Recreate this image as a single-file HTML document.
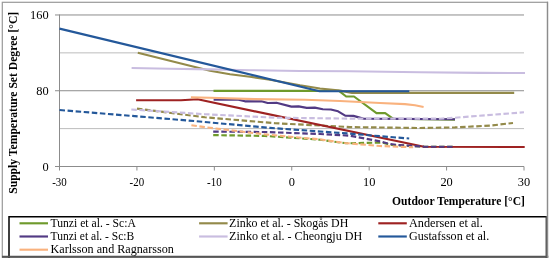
<!DOCTYPE html>
<html><head><meta charset="utf-8"><title>Supply temperature chart</title>
<style>html,body{margin:0;padding:0;background:#fff;overflow:hidden}svg{display:block}</style>
</head><body>
<svg width="550" height="259" viewBox="0 0 550 259">
<rect x="0" y="0" width="550" height="259" fill="#ffffff"/>
<rect x="2.3" y="2.3" width="545.2" height="255" fill="none" stroke="#9a9a9a" stroke-width="1.2"/>
<line x1="59.5" y1="128.62" x2="524.0" y2="128.62" stroke="#bcbcbc" stroke-width="1"/>
<line x1="59.5" y1="52.86" x2="524.0" y2="52.86" stroke="#bcbcbc" stroke-width="1"/>
<line x1="59.5" y1="90.74" x2="524.0" y2="90.74" stroke="#8c8c8c" stroke-width="1"/>
<line x1="59.5" y1="14.98" x2="524.0" y2="14.98" stroke="#8c8c8c" stroke-width="1"/>
<line x1="59.5" y1="14.48" x2="59.5" y2="166.50" stroke="#8c8c8c" stroke-width="1"/>
<line x1="55" y1="166.50" x2="524.0" y2="166.50" stroke="#8c8c8c" stroke-width="1"/>
<line x1="55" y1="166.50" x2="59.5" y2="166.50" stroke="#8c8c8c" stroke-width="1"/>
<line x1="55" y1="90.74" x2="59.5" y2="90.74" stroke="#8c8c8c" stroke-width="1"/>
<line x1="55" y1="14.98" x2="59.5" y2="14.98" stroke="#8c8c8c" stroke-width="1"/>
<line x1="59.49" y1="166.50" x2="59.49" y2="170.5" stroke="#8c8c8c" stroke-width="1"/>
<line x1="136.91" y1="166.50" x2="136.91" y2="170.5" stroke="#8c8c8c" stroke-width="1"/>
<line x1="214.33" y1="166.50" x2="214.33" y2="170.5" stroke="#8c8c8c" stroke-width="1"/>
<line x1="291.75" y1="166.50" x2="291.75" y2="170.5" stroke="#8c8c8c" stroke-width="1"/>
<line x1="369.17" y1="166.50" x2="369.17" y2="170.5" stroke="#8c8c8c" stroke-width="1"/>
<line x1="446.59" y1="166.50" x2="446.59" y2="170.5" stroke="#8c8c8c" stroke-width="1"/>
<line x1="524.01" y1="166.50" x2="524.01" y2="170.5" stroke="#8c8c8c" stroke-width="1"/>
<g fill="none" stroke-linejoin="round" stroke-linecap="butt">
<polyline points="213.5,90.8 339.0,90.8 346.2,96.5 354.0,96.5 376.5,113.1 385.2,113.1 393.3,118.8 455.0,119.6" stroke="#6f9a2c" stroke-width="2.15"/>
<polyline points="213.2,135.1 265.0,135.9 320.0,139.7 346.0,143.3 382.0,142.6 392.0,145.0 424.0,146.7 455.0,146.9" stroke="#6f9a2c" stroke-width="2.15" stroke-dasharray="5.5 2.6"/>
<polyline points="137.8,52.7 210.0,70.8 230.0,74.2 250.0,76.8 270.0,79.8 300.0,85.3 320.0,88.5 340.0,90.6 352.0,92.9 514.2,92.9" stroke="#938a4a" stroke-width="2.15"/>
<polyline points="137.0,108.6 205.0,117.3 275.0,123.2 350.0,127.1 420.0,128.0 455.0,127.4 490.0,125.6 513.0,123.0" stroke="#938a4a" stroke-width="2.15" stroke-dasharray="5.5 2.6"/>
<polyline points="136.1,100.2 181.0,100.2 197.6,99.3 424.0,146.7 524.7,147.0" stroke="#9e2222" stroke-width="2.15"/>
<polyline points="213.6,99.6 238.4,99.6 244.9,101.3 261.4,101.3 267.7,103.0 276.4,102.7 291.4,106.6 298.6,106.4 306.8,107.9 314.8,107.6 322.8,109.3 330.8,109.5 338.1,111.3 345.6,115.8 353.4,115.9 363.2,118.6 455.0,119.3" stroke="#523a84" stroke-width="2.15"/>
<polyline points="213.2,131.6 265.0,132.0 320.0,134.0 350.0,135.7 370.8,139.6 381.0,141.5 388.0,143.6 396.0,144.8 424.0,146.7 454.6,146.8" stroke="#523a84" stroke-width="2.15" stroke-dasharray="5.5 2.6"/>
<polyline points="131.6,68.0 170.0,68.8 210.0,69.4 250.0,70.2 300.0,71.0 350.0,71.3 420.0,72.2 480.0,72.9 525.0,73.0" stroke="#c9bde0" stroke-width="2.15"/>
<polyline points="131.3,109.5 205.0,114.2 275.0,117.7 350.0,118.6 440.0,118.7 455.0,117.7 524.0,112.3" stroke="#c9bde0" stroke-width="2.15" stroke-dasharray="5.5 2.6"/>
<polyline points="59.5,28.6 319.5,91.2 409.3,91.2" stroke="#24589a" stroke-width="2.15"/>
<polyline points="59.5,110.0 155.0,117.8 195.0,121.1 270.0,127.9 350.0,133.6 380.0,136.2 409.2,138.5" stroke="#24589a" stroke-width="2.15" stroke-dasharray="5.5 2.6"/>
<polyline points="190.9,97.4 210.0,97.8 255.0,99.1 305.0,99.7 340.0,101.0 380.0,103.0 405.0,104.1 415.0,105.3 423.6,107.0" stroke="#f9b27e" stroke-width="2.15"/>
<polyline points="191.4,125.2 205.0,127.2 265.0,134.4 320.0,139.4 345.0,143.0 380.0,146.0 413.2,147.3" stroke="#f9b27e" stroke-width="2.15" stroke-dasharray="5.5 2.6"/>
</g>
<g font-family="Liberation Serif, serif" font-size="12.4" fill="#000">
<text x="48.6" y="19.28" text-anchor="end">160</text>
<text x="48.6" y="95.04" text-anchor="end">80</text>
<text x="48.6" y="170.80" text-anchor="end">0</text>
<text x="59.49" y="186.3" text-anchor="middle" textLength="14.6" lengthAdjust="spacingAndGlyphs">-30</text>
<text x="136.91" y="186.3" text-anchor="middle" textLength="14.6" lengthAdjust="spacingAndGlyphs">-20</text>
<text x="214.33" y="186.3" text-anchor="middle" textLength="14.6" lengthAdjust="spacingAndGlyphs">-10</text>
<text x="291.75" y="186.3" text-anchor="middle">0</text>
<text x="369.17" y="186.3" text-anchor="middle">10</text>
<text x="446.59" y="186.3" text-anchor="middle">20</text>
<text x="524.01" y="186.3" text-anchor="middle">30</text>
</g>
<text font-family="Liberation Serif, serif" font-size="12" font-weight="bold" transform="translate(17.4,193.8) rotate(-90)" textLength="182" lengthAdjust="spacingAndGlyphs">Supply Temperature Set Degree [°C]</text>
<text font-family="Liberation Serif, serif" font-size="12" font-weight="bold" x="392.1" y="204.6" textLength="132.8" lengthAdjust="spacingAndGlyphs">Outdoor Temperature [°C]</text>
<rect x="9" y="216.8" width="537.5" height="40" fill="#fff" stroke="none"/>
<path d="M9,258 V216.8 H546.3" fill="none" stroke="#000" stroke-width="1.5"/>
<line x1="546.2" y1="216" x2="546.2" y2="258" stroke="#333" stroke-width="1.2"/>
<g font-family="Liberation Serif, serif" font-size="11.6" fill="#000">
<line x1="19.5" y1="223.3" x2="48.0" y2="223.3" stroke="#6f9a2c" stroke-width="2.15"/>
<text x="50.5" y="226.8" textLength="85.3" lengthAdjust="spacingAndGlyphs">Tunzi et al. - Sc:A</text>
<line x1="199.1" y1="223.3" x2="227.6" y2="223.3" stroke="#938a4a" stroke-width="2.15"/>
<text x="229.1" y="226.8" textLength="119.2" lengthAdjust="spacingAndGlyphs">Zinko et al. - Skogås DH</text>
<line x1="378.3" y1="223.3" x2="406.8" y2="223.3" stroke="#9e2222" stroke-width="2.15"/>
<text x="409.0" y="226.8" textLength="73.8" lengthAdjust="spacingAndGlyphs">Andersen et al.</text>
<line x1="19.5" y1="236.5" x2="48.0" y2="236.5" stroke="#523a84" stroke-width="2.15"/>
<text x="50.5" y="240.0" textLength="83.7" lengthAdjust="spacingAndGlyphs">Tunzi et al. - Sc:B</text>
<line x1="199.1" y1="236.5" x2="227.6" y2="236.5" stroke="#c9bde0" stroke-width="2.15"/>
<text x="229.1" y="240.0" textLength="133.1" lengthAdjust="spacingAndGlyphs">Zinko et al. - Cheongju DH</text>
<line x1="378.3" y1="236.5" x2="406.8" y2="236.5" stroke="#24589a" stroke-width="2.15"/>
<text x="409.0" y="240.0" textLength="80.2" lengthAdjust="spacingAndGlyphs">Gustafsson et al.</text>
<line x1="19.5" y1="249.7" x2="48.0" y2="249.7" stroke="#f9b27e" stroke-width="2.15"/>
<text x="50.5" y="253.2" textLength="123.4" lengthAdjust="spacingAndGlyphs">Karlsson and Ragnarsson</text>
</g>
<line x1="2" y1="256.8" x2="548.3" y2="256.8" stroke="#555" stroke-width="1.9"/>
<line x1="547.5" y1="1.7" x2="547.5" y2="257.7" stroke="#8c8c8c" stroke-width="1.3"/>
</svg>
</body></html>
